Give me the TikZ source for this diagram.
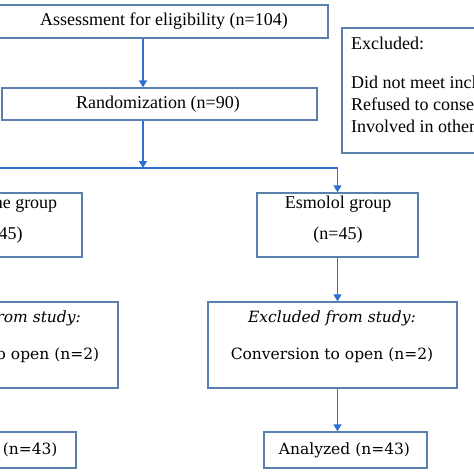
\documentclass[tikz,border=0pt]{standalone}
\usepackage{fontspec}
\setmainfont{Liberation Serif}
\newfontfamily\widefont{DejaVu Serif}
\usetikzlibrary{arrows.meta,positioning}
\definecolor{boxblue}{HTML}{5A80AE}
\definecolor{arrowblue}{HTML}{2D6FD3}
\tikzset{
  box/.style={draw=boxblue,line width=1.4pt,inner sep=0pt},
  flow/.style={arrowblue,line width=1.6pt,-{Triangle[width=8pt,length=7pt]}},
  txt/.style={font=\fontsize{18}{21}\selectfont,inner sep=0pt},
  wtxt/.style={font=\widefont\fontsize{15.5}{19}\selectfont,inner sep=0pt},
}
\begin{document}
\begin{tikzpicture}[x=1pt,y=-1pt]
\useasboundingbox (0,0) rectangle (474,474);
\clip (0,0) rectangle (474,474);
% boxes
\node[box,minimum width=330pt,minimum height=33pt] (assess) at (163,21.5) {};
\node[box,minimum width=315pt,minimum height=32pt] (rand) at (159.5,104) {};
\node[box,minimum width=200pt,minimum height=125pt] (excl) at (442,90.5) {};
\node[box,minimum width=161pt,minimum height=64pt] (lido) at (1.5,225) {};
\node[box,minimum width=161pt,minimum height=64pt] (esm) at (337.5,225) {};
\node[box,minimum width=238pt,minimum height=86pt] (exL) at (-1,345) {};
\node[box,minimum width=249pt,minimum height=86pt] (exR) at (332.5,345) {};
\node[box,minimum width=163pt,minimum height=36pt] (anL) at (-5.5,450) {};
\node[box,minimum width=163pt,minimum height=36pt] (anR) at (345.5,450) {};
% texts
\node[txt] at (164,21) {Assessment for eligibility (n=104)};
\node[txt] at (158,104) {Randomization (n=90)};
\node[txt,anchor=west] at (351,43) {Excluded:};
\node[txt,anchor=west] at (351,82) {Did not meet inclusion criteria};
\node[txt,anchor=west] at (351,104) {Refused to consent};
\node[txt,anchor=west] at (351,126) {Involved in other studies};
\node[txt] at (-2,204) {Lidocaine group};
\node[txt] at (-2,235) {(n=45)};
\node[txt] at (338,204) {Esmolol group};
\node[txt] at (338,235) {(n=45)};
\node[wtxt] at (-3,318) {\itshape Excluded from study:};
\node[wtxt] at (-2,355) {Conversion to open (n=2)};
\node[wtxt] at (332,318) {\itshape Excluded from study:};
\node[wtxt] at (332,355) {Conversion to open (n=2)};
\node[wtxt] at (-8,450) {Analyzed (n=43)};
\node[wtxt] at (344.5,450) {Analyzed (n=43)};
% arrows
\coordinate (split) at (143,168);
\coordinate (leftcol) at (-6,168);
\draw[flow] (assess.south -| split) -- (rand.north -| split);
\draw[flow] (rand.south -| split) -- (split);
\draw[flow] (split) -| (esm.north);
\draw[flow] (split) -| (lido.north -| leftcol);
\draw[flow] (lido.south -| leftcol) -- (exL.north -| leftcol);
\draw[flow] (exL.south -| leftcol) -- (anL.north -| leftcol);
\draw[flow] (esm.south) -- (esm.south |- exR.north);
\draw[flow] (exR.south -| esm.south) -- (anR.north -| esm.south);
\end{tikzpicture}
\end{document}
